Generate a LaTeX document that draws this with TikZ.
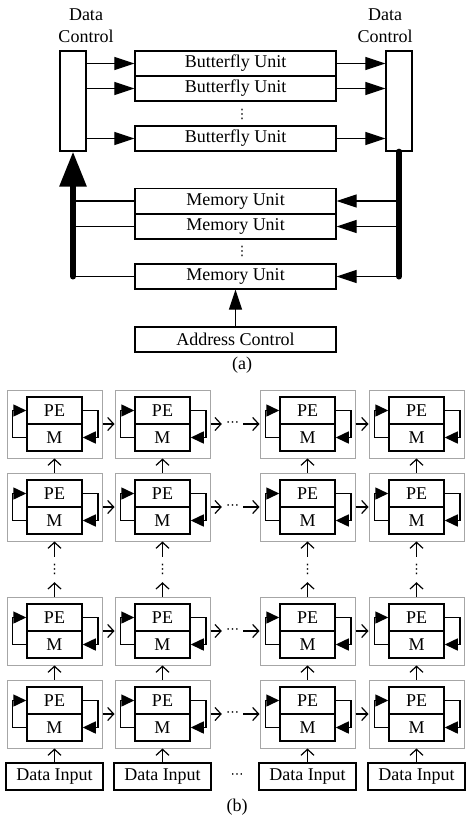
\documentclass[tikz,border=0pt]{standalone}
\usepackage{fontspec}
\setmainfont{Liberation Serif}
\newfontfamily\symfont{DejaVu Sans}
\usetikzlibrary{arrows.meta}

\tikzstyle{dctrl} = [draw, line width=1.3pt, minimum width=26pt, minimum height=100pt, inner sep=0pt]
\tikzstyle{unit} = [draw, line width=1.3pt, minimum width=201pt, minimum height=25pt, inner sep=0pt]
\tikzstyle{arr} = [line width=1.2pt, -{Triangle[length=20pt,width=13pt]}]
\tikzstyle{bus} = [line width=6pt, line cap=round]
\tikzstyle{cell} = [draw=gray!70, line width=1pt, minimum width=95pt, minimum height=68pt, inner sep=0pt]
\tikzstyle{pebox} = [draw, line width=1.5pt, minimum width=55pt, minimum height=27pt, inner sep=0pt]
\tikzstyle{fb} = [line width=1.5pt, -{Triangle[length=13pt,width=12pt]}]
\tikzstyle{link} = [line width=1.2pt, -{Straight Barb[length=6pt,width=13pt]}]
\tikzstyle{dinbox} = [draw, line width=1.5pt, minimum width=97pt, minimum height=27pt, inner sep=0pt]
\tikzstyle{dots} = [inner sep=0pt, font=\symfont\fontsize{13}{15}\selectfont]

\begin{document}
\begin{tikzpicture}[x=1pt, y=-1pt, font=\fontsize{18}{22}\selectfont]
  \useasboundingbox (0,0) rectangle (474,818);
  % (a)
  \node[align=center] (dcl-lbl) at (86,26) {Data\\Control};
  \node[align=center] (dcr-lbl) at (385,26) {Data\\Control};
  \node[dctrl] (dcl) at (73,101) {};
  \node[dctrl] (dcr) at (399,101) {};
  \node[unit] (bu1) at (235.5,63.5) {Butterfly Unit};
  \node[unit] (bu2) at (235.5,88.5) {Butterfly Unit};
  \node[dots] (bdots) at (242,114) {⋮};
  \node[unit] (bu3) at (235.5,138.5) {Butterfly Unit};
  \node[unit] (mu1) at (235.5,201) {Memory Unit};
  \node[unit] (mu2) at (235.5,226.5) {Memory Unit};
  \node[dots] (mdots) at (242,251) {⋮};
  \node[unit] (mu3) at (235.5,276.5) {Memory Unit};
  \node[unit] (ac) at (235.5,339.5) {Address Control};
  \node (a-lbl) at (242,365) {(a)};
  \foreach \u in {bu1,bu2,bu3} {
    \draw[arr] (\u.west -| dcl.east) -- (\u.west);
    \draw[arr] (\u.east) -- (\u.east -| dcr.west);
  }
  \foreach \u in {mu1,mu2,mu3} {
    \draw[line width=1.2pt] (\u.west) -- (\u.west -| dcl);
    \draw[arr] (\u.east -| dcr) -- (\u.east);
  }
  \draw[bus, -{Triangle[length=35pt,width=26pt]}] (mu3.west -| dcl) -- (dcl.south);
  \draw[bus] (dcr.south) -- (mu3.east -| dcr);
  \draw[arr] (ac) -- (mu3);
  % (b)
  \foreach \c/\x in {1/54.5,2/162.5,3/307.5,4/416.5} {
    \foreach \r/\y in {1/390,2/473,3/597,4/680} {
      \node[cell] (cell-\c-\r) at (\x,\y+34) {};
      \node[pebox] (pe-\c-\r) at (\x,\y+20.5) {PE};
      \node[pebox] (m-\c-\r) at (\x,\y+47.5) {M};
      \draw[fb] (m-\c-\r.west) -- ++(-14,0) |- (pe-\c-\r.west);
      \draw[fb] (pe-\c-\r.east) -- ++(15,0) |- (m-\c-\r.east);
    }
    \node[dinbox] (din-\c) at (\x,776.5) {Data Input};
    \node[dots, minimum height=25pt] (vd-\c) at (\x,569.5) {⋮};
    \draw[link] (din-\c) -- (cell-\c-4);
    \draw[link] (cell-\c-4) -- (cell-\c-3);
    \draw[link] (cell-\c-3) -- (vd-\c);
    \draw[link] (vd-\c) -- (cell-\c-2);
    \draw[link] (cell-\c-2) -- (cell-\c-1);
  }
  \foreach \r/\y in {1/390,2/473,3/597,4/680} {
    \node[dots, minimum width=21pt] (hd-\r) at (232.5,\y+34) {⋯};
    \draw[link] (cell-1-\r) -- (cell-2-\r);
    \draw[link] (cell-2-\r) -- (hd-\r);
    \draw[link] (hd-\r) -- (cell-3-\r);
    \draw[link] (cell-3-\r) -- (cell-4-\r);
  }
  \node[dots] (ddots) at (237,776) {⋯};
  \node (b-lbl) at (237,807) {(b)};
\end{tikzpicture}
\end{document}
